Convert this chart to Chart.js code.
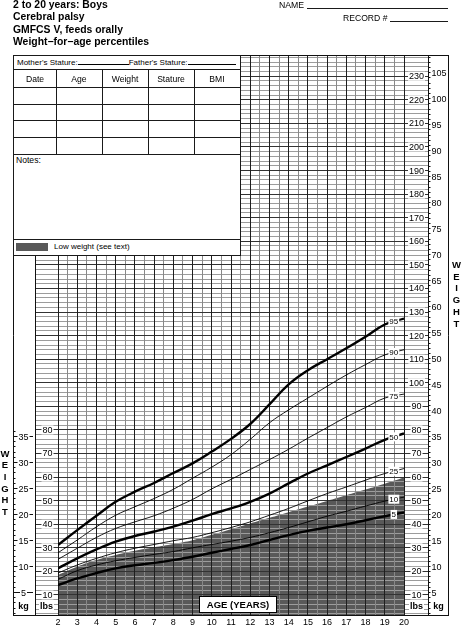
<!DOCTYPE html>
<html>
<head>
<meta charset="utf-8">
<title>Weight-for-age percentiles</title>
<script src="https://cdn.jsdelivr.net/npm/chart.js@4.4.1/dist/chart.umd.min.js"></script>
<style>
html,body{margin:0;padding:0;background:#fff;}
body{width:462px;height:626px;position:relative;overflow:hidden;font-family:"Liberation Sans",Arial,Helvetica,sans-serif;color:#000;}
#c{position:absolute;left:0;top:0;width:462px;height:626px;}
.t{position:absolute;white-space:nowrap;}
.hd{left:13px;font-weight:bold;font-size:10.4px;line-height:12px;}
.ln{position:absolute;background:#1a1a1a;}
#tbl{position:absolute;left:13px;top:55px;width:228px;height:201px;background:#fff;box-sizing:border-box;border:1px solid #1a1a1a;}
.u{display:inline-block;border-bottom:1px solid #000;height:0;}
.th{font-size:8.6px;line-height:10px;width:46px;text-align:center;}
.wl{position:absolute;font-weight:bold;font-size:9.5px;line-height:11.7px;text-align:center;width:12px;}
</style>
</head>
<body>
<canvas id="c" width="462" height="626"></canvas>

<div class="t hd" style="top:-1px">2 to 20 years: Boys</div>
<div class="t hd" style="top:10.5px">Cerebral palsy</div>
<div class="t hd" style="top:23.5px">GMFCS V, feeds orally</div>
<div class="t hd" style="top:36px">Weight−for−age percentiles</div>
<div class="t" style="left:279px;top:-0.3px;font-size:8.7px;line-height:10px">NAME</div>
<div class="ln" style="left:307px;top:8px;width:141px;height:1px"></div>
<div class="t" style="left:343px;top:12.7px;font-size:8.6px;line-height:10px">RECORD #</div>
<div class="ln" style="left:390px;top:21px;width:58px;height:1px"></div>

<div id="tbl"></div>
<div class="ln" style="left:13px;top:69px;width:228px;height:1px"></div>
<div class="ln" style="left:13px;top:87px;width:228px;height:1px"></div>
<div class="ln" style="left:13px;top:104px;width:228px;height:1px"></div>
<div class="ln" style="left:13px;top:120px;width:228px;height:1px"></div>
<div class="ln" style="left:13px;top:137px;width:228px;height:1px"></div>
<div class="ln" style="left:13px;top:154px;width:228px;height:1px"></div>
<div class="ln" style="left:13px;top:239px;width:228px;height:1px"></div>
<div class="ln" style="left:56px;top:69px;width:1px;height:85px"></div>
<div class="ln" style="left:102px;top:69px;width:1px;height:85px"></div>
<div class="ln" style="left:148px;top:69px;width:1px;height:85px"></div>
<div class="ln" style="left:194px;top:69px;width:1px;height:85px"></div>

<div class="t" style="left:17px;top:58.2px;font-size:8px;line-height:10px">Mother's Stature:<span class="u" style="width:51px"></span>Father's Stature:<span class="u" style="width:48px"></span></div>
<div class="t th" style="left:12px;top:73.5px">Date</div>
<div class="t th" style="left:56px;top:73.5px">Age</div>
<div class="t th" style="left:102px;top:73.5px">Weight</div>
<div class="t th" style="left:148px;top:73.5px">Stature</div>
<div class="t th" style="left:194px;top:73.5px">BMI</div>
<div class="t" style="left:16px;top:155px;font-size:8.6px;line-height:10px">Notes:</div>
<div style="position:absolute;left:16px;top:243px;width:32px;height:8px;background:#595959"></div>
<div class="t" style="left:54px;top:242px;font-size:8px;line-height:10px">Low weight (see text)</div>

<div class="wl" style="left:450.5px;top:259px">W<br>E<br>I<br>G<br>H<br>T</div>
<div class="wl" style="left:-1px;top:447.5px">W<br>E<br>I<br>G<br>H<br>T</div>

<script>
// ---------------- data ----------------
const ages = [2,3,4,5,6,7,8,9,10,11,12,13,14,15,16,17,18,19,20];
const p5  = [14.2,17.0,19.3,21.3,22.6,23.6,24.8,26.2,27.9,29.5,31.2,33.3,35.4,37.2,38.6,40.0,41.7,43.4,45.0];
const p10 = [16.6,20.3,22.7,24.5,25.9,27.2,28.4,30.0,31.4,32.8,34.4,36.4,38.6,41.0,43.4,45.5,47.7,49.8,51.5];
const p25 = [19.3,22.7,25.5,27.9,29.8,31.4,33.0,34.4,36.4,38.6,41.0,43.8,46.7,49.9,53.0,55.8,58.7,61.5,63.6];
const p50 = [21.3,25.5,29.3,32.6,35.0,36.9,39.0,41.5,44.3,46.7,49.5,53.0,57.3,61.5,65.0,68.5,72.1,75.8,78.5];
const p75 = [25.1,29.8,34.4,38.2,41.0,43.6,46.8,50.5,55.0,59.0,63.2,67.4,71.8,76.5,81.0,85.5,89.5,93.5,95.2];
const p90 = [27.9,33.3,38.9,43.8,47.4,50.9,54.8,59.5,64.2,69.5,76.0,83.0,88.5,93.5,98.5,103.3,107.7,111.8,114.0];
const p95 = [31.2,37.5,43.6,49.5,53.8,57.5,61.7,65.8,70.8,76.2,82.5,90.8,99.3,105.3,110.0,114.6,119.5,124.7,127.2];
const lowWeight = [18.5,22.0,24.8,26.9,28.7,30.2,31.6,33.2,35.5,37.9,40.3,42.7,45.1,47.5,49.9,52.3,54.7,57.2,59.8];
const percentileLabels = ['5','10','25','50','75','90','95'];

const lbsTicksRight = [10,20,30,40,50,60,70,80,90,100,110,120,130,140,150,160,170,180,190,200,210,220,230];
const lbsTicksLeft  = [10,20,30,40,50,60,70,80];
const kgTicksRight  = [5,10,15,20,25,30,35,40,45,50,55,60,65,70,75,80,85,90,95,100,105];
const kgTicksLeft   = [5,10,15,20,25,30,35];

const LB_MIN = 1.5, LB_MAX = 239, LB_PER_KG = 2.20462;

// ---------------- drawing helpers ----------------
const FONT = '"Liberation Sans", Arial, Helvetica, sans-serif';
const COL_L = 35, COL_R = 428, OUT_L = 13, OUT_R = 448;
const crisp = v => Math.round(v - 0.5) + 0.5;
function hline(ctx, x1, x2, y){ ctx.beginPath(); ctx.moveTo(x1, y); ctx.lineTo(x2, y); ctx.stroke(); }
function vline(ctx, x, y1, y2){ ctx.beginPath(); ctx.moveTo(x, y1); ctx.lineTo(x, y2); ctx.stroke(); }
function boxText(ctx, text, x, y, font, align){
  ctx.font = font;
  const w = ctx.measureText(text).width;
  const left = align === 'left' ? x : x - w / 2;
  ctx.fillStyle = '#fff';
  ctx.fillRect(left - 1, y - 4.5, w + 2, 9);
  ctx.fillStyle = '#000';
  ctx.textAlign = 'left';
  ctx.textBaseline = 'middle';
  ctx.fillText(text, left, y + 0.5);
}

function drawGrid(chart){
  const ctx = chart.ctx, xs = chart.scales.x, ys = chart.scales.y;
  const top = chart.chartArea.top, bot = chart.chartArea.bottom;
  ctx.save();
  ctx.lineWidth = 1;
  // minor horizontal (every 2 lb)
  ctx.strokeStyle = '#9c9c9c';
  for (let lb = 2; lb <= 238; lb += 2){
    if (lb % 10 === 0) continue;
    hline(ctx, COL_L, COL_R, crisp(ys.getPixelForValue(lb)));
  }
  // half-year verticals
  ctx.strokeStyle = '#888';
  for (let a = 2.5; a < 20; a += 1){
    vline(ctx, crisp(xs.getPixelForValue(a)), top, bot);
  }
  // major horizontal (every 10 lb)
  ctx.strokeStyle = '#333';
  for (let lb = 10; lb <= 230; lb += 10){
    hline(ctx, COL_L, COL_R, crisp(ys.getPixelForValue(lb)));
  }
  // year verticals
  ctx.strokeStyle = '#1e1e1e';
  for (let a = 2; a <= 20; a += 1){
    vline(ctx, crisp(xs.getPixelForValue(a)), top, bot);
  }
  // frame
  ctx.strokeStyle = '#111';
  vline(ctx, OUT_L + 0.5, top, bot + 0.5);
  vline(ctx, COL_L + 0.5, top, bot);
  vline(ctx, COL_R + 0.5, top, bot);
  vline(ctx, OUT_R + 0.5, top, bot + 0.5);
  hline(ctx, OUT_L, OUT_R + 1, top + 0.5);
  hline(ctx, OUT_L, OUT_R + 1, bot + 0.5);
  ctx.restore();
}

function drawLabels(chart){
  const ctx = chart.ctx, xs = chart.scales.x, ys = chart.scales.y, yk = chart.scales.y2;
  ctx.save();
  const numFont = '9px ' + FONT;
  // lbs labels
  lbsTicksRight.forEach(v => boxText(ctx, String(v), 416.5, ys.getPixelForValue(v), numFont));
  lbsTicksLeft.forEach(v => boxText(ctx, String(v), 47.5, ys.getPixelForValue(v), numFont));
  // kg ticks right
  ctx.strokeStyle = '#111'; ctx.lineWidth = 1;
  for (let kg = 1; kg <= 108; kg++){
    const y = crisp(yk.getPixelForValue(kg));
    const major = kg % 5 === 0;
    hline(ctx, COL_R, COL_R + (major ? 3.5 : 2.5), y);
  }
  kgTicksRight.forEach(v => boxText(ctx, String(v), 431.5, yk.getPixelForValue(v), numFont, 'left'));
  // kg ticks left
  for (let kg = 1; kg <= 36; kg++){
    const y = crisp(yk.getPixelForValue(kg));
    const major = kg % 5 === 0;
    hline(ctx, OUT_L, OUT_L + (major ? 20 : 2.5), y);
  }
  kgTicksLeft.forEach(v => boxText(ctx, String(v), 23.5, yk.getPixelForValue(v), numFont));
  // unit labels
  const bFont = 'bold 9px ' + FONT;
  boxText(ctx, 'kg', 23.5, 606.5, bFont);
  boxText(ctx, 'lbs', 46.5, 606.5, bFont);
  boxText(ctx, 'lbs', 416.5, 606.5, bFont);
  boxText(ctx, 'kg', 438.5, 606.5, bFont);
  // AGE (YEARS) box
  ctx.fillStyle = '#fff'; ctx.fillRect(199.5, 596.5, 77, 16);
  ctx.strokeStyle = '#000'; ctx.strokeRect(199.5, 596.5, 77, 16);
  ctx.fillStyle = '#000'; ctx.font = 'bold 9.5px ' + FONT;
  ctx.textAlign = 'center'; ctx.textBaseline = 'middle';
  ctx.fillText('AGE (YEARS)', 238, 605);
  // percentile labels near the right end of each curve
  const series = [p5, p10, p25, p50, p75, p90, p95];
  const la = 19.47, f = la - ages[17];
  const lx = xs.getPixelForValue(la);
  series.forEach((s, i) => {
    const v = s[17] + (s[18] - s[17]) * f;
    boxText(ctx, percentileLabels[i], lx, ys.getPixelForValue(v), '8px ' + FONT);
  });
  ctx.restore();
}

const SHADE_INDEX = 7;
const decor = {
  id: 'decor',
  afterDatasetDraw(chart, args){ if (args.index === SHADE_INDEX) drawGrid(chart); },
  afterDatasetsDraw(chart){ drawLabels(chart); }
};

// ---------------- datasets ----------------
const THICK = 2.4, THIN = 0.9;
const pts = v => ages.map((a, i) => ({x: a, y: v[i]}));
const curveSeries = [p5, p10, p25, p50, p75, p90, p95];
const widths = [THICK, THIN, THIN, THICK, THIN, THIN, THICK];
const datasets = curveSeries.map((v, i) => ({
  label: percentileLabels[i], data: pts(v), borderColor: '#000', borderWidth: widths[i],
  pointRadius: 0, fill: false, tension: 0.4, yAxisID: 'y'
}));
datasets.push({
  label: 'Low weight (see text)', data: pts(lowWeight), borderWidth: 0, borderColor: 'rgba(0,0,0,0)',
  backgroundColor: '#595959', fill: 'start', pointRadius: 0, tension: 0.4, yAxisID: 'y'
});

new Chart(document.getElementById('c'), {
  type: 'line',
  data: { datasets },
  options: {
    responsive: false,
    animation: false,
    events: [],
    layout: { padding: { left: 58, right: 58, top: 55, bottom: 0 } },
    plugins: { legend: { display: false }, tooltip: { enabled: false } },
    scales: {
      x: {
        type: 'linear', min: 2, max: 20, position: 'bottom',
        grid: { display: false, drawTicks: false }, border: { display: false },
        ticks: { stepSize: 1, autoSkip: false, maxRotation: 0, padding: 2, color: '#000', font: { family: FONT, size: 9 } },
        afterFit(s){ s.height = 11; }
      },
      y: { type: 'linear', min: LB_MIN, max: LB_MAX, display: false },
      y2: { type: 'linear', min: LB_MIN / LB_PER_KG, max: LB_MAX / LB_PER_KG, display: false }
    }
  },
  plugins: [decor]
});
</script>
</body>
</html>
